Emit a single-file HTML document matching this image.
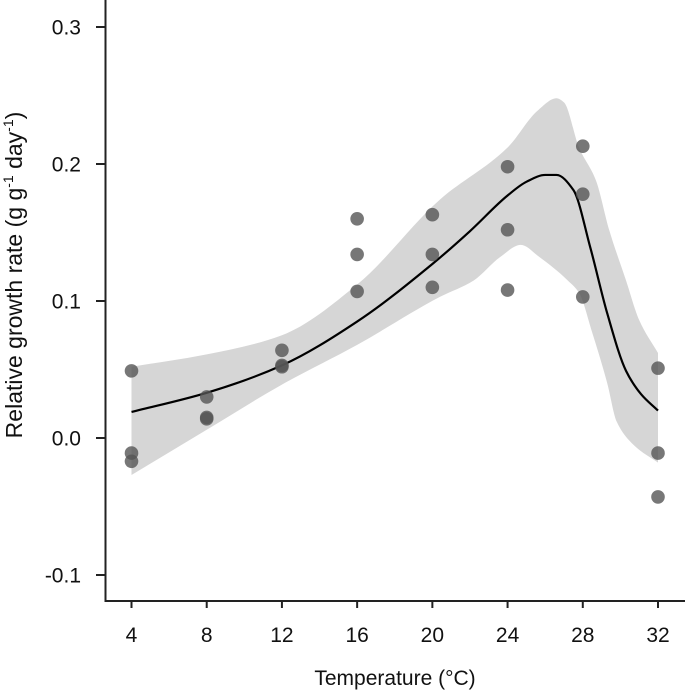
<!DOCTYPE html>
<html><head><meta charset="utf-8"><style>
html,body{margin:0;padding:0;background:#fff}
svg{display:block;font-family:"Liberation Sans",Arial,sans-serif}
</style></head><body>
<svg id="chart" width="685" height="691" viewBox="0 0 685 691" xmlns="http://www.w3.org/2000/svg">
<g id="band"></g>
<g id="fit"></g>
<g id="points"></g>
<g id="axes"></g>
<text x="395" y="685" font-size="21" text-anchor="middle" fill="#111">Temperature (°C)</text>
<text transform="translate(22,275) rotate(-90)" font-size="23" text-anchor="middle" fill="#111">Relative growth rate (g g<tspan font-size="14" dy="-9">-1</tspan><tspan dy="9"> day</tspan><tspan font-size="14" dy="-9">-1</tspan><tspan dy="9">)</tspan></text>
</svg>
<script>
const xTicks=[4,8,12,16,20,24,28,32];
const yTicks=[-0.1,0.0,0.1,0.2,0.3];
const yTickLabels=["-0.1","0.0","0.1","0.2","0.3"];
const fitT=[4,8,12,16,20,22,24,25,26,26.6,27.5,28.4,29.3,30.3,31.1,32];
const fitV=[0.019,0.033,0.053,0.085,0.127,0.151,0.177,0.187,0.192,0.192,0.181,0.139,0.091,0.049,0.032,0.020];
const upperT=[4,8,12,16,20.4,24,25.6,26.6,27,27.8,28.7,29.4,30.3,31,32];
const upperV=[0.052,0.061,0.075,0.112,0.174,0.212,0.239,0.248,0.245,0.212,0.188,0.152,0.115,0.086,0.062];
const lowerT=[4,8,12,16,20.4,22.2,23.6,24.7,25.7,27.2,27.8,28.5,29.3,29.8,30.7,32];
const lowerV=[-0.027,0.006,0.039,0.068,0.103,0.115,0.132,0.141,0.132,0.115,0.106,0.077,0.040,0.012,-0.005,-0.018];
const ptT=[4,4,4,8,8,8,12,12,12,16,16,16,20,20,20,24,24,24,28,28,28,32,32,32];
const ptV=[0.049,-0.011,-0.017,0.030,0.015,0.014,0.064,0.053,0.052,0.160,0.134,0.107,0.163,0.134,0.110,0.198,0.152,0.108,0.213,0.178,0.103,0.051,-0.011,-0.043];

const NS="http://www.w3.org/2000/svg";
const X=t=>131.5+(t-4)*(658-131.5)/28;
const Y=v=>438-v*1370;
function mk(tag,attrs,parent){const e=document.createElementNS(NS,tag);for(const k in attrs)e.setAttribute(k,attrs[k]);parent.appendChild(e);return e;}
// monotone cubic (Fritsch-Carlson) in screen space; reverse flag draws right-to-left
function monotone(ts,vs,start,reverse){
 const x=ts.map(X),y=vs.map(Y),n=x.length;
 const s=[],m=[];
 for(let i=0;i<n-1;i++)s.push((y[i+1]-y[i])/(x[i+1]-x[i]));
 m[0]=s[0];m[n-1]=s[n-2];
 for(let i=1;i<n-1;i++){
  if(s[i-1]*s[i]<=0)m[i]=0;
  else{const h0=x[i]-x[i-1],h1=x[i+1]-x[i];m[i]=3*(h0+h1)/((2*h1+h0)/s[i-1]+(h1+2*h0)/s[i]);}
 }
 const segs=[];
 for(let i=0;i<n-1;i++){
  const h=(x[i+1]-x[i])/3;
  segs.push([[x[i],y[i]],[x[i]+h,y[i]+m[i]*h],[x[i+1]-h,y[i+1]-m[i+1]*h],[x[i+1],y[i+1]]]);
 }
 let d='';
 if(!reverse){
  d=(start?'M':'L')+x[0]+','+y[0];
  segs.forEach(g=>{d+='C'+g[1]+' '+g[2]+' '+g[3];});
 }else{
  d=(start?'M':'L')+x[n-1]+','+y[n-1];
  for(let i=segs.length-1;i>=0;i--){const g=segs[i];d+='C'+g[2]+' '+g[1]+' '+g[0];}
 }
 return d;
}

const band=document.getElementById('band');
const bp=mk('path',{d:monotone(upperT,upperV,true,false)+monotone(lowerT,lowerV,false,true)+'Z',fill:'#d6d6d6'},band);



const fit=document.getElementById('fit');
const fp=mk('path',{d:monotone(fitT,fitV,true,false),fill:'none',stroke:'#000','stroke-width':2.2},fit);



const pts=document.getElementById('points');
ptT.forEach((t,i)=>{
 const c=mk('circle',{cx:X(t),cy:Y(ptV[i]),r:6.8,fill:'#555','fill-opacity':0.8},pts);
 
 
});

const ax=document.getElementById('axes');
const ya=mk('line',{x1:105.5,y1:0,x2:105.5,y2:601.5,stroke:'#222','stroke-width':2},ax);


const xa=mk('line',{x1:104.5,y1:601,x2:685,y2:601,stroke:'#222','stroke-width':2},ax);


xTicks.forEach(t=>{
 const l=mk('line',{x1:X(t),y1:601,x2:X(t),y2:608,stroke:'#222','stroke-width':2},ax);
 
 
 const tx=mk('text',{x:X(t),y:642,'font-size':21,'text-anchor':'middle',fill:'#111'},ax);
 tx.textContent=String(t);
 
 
});
yTicks.forEach((v,i)=>{
 const l=mk('line',{x1:96,y1:Y(v),x2:105.5,y2:Y(v),stroke:'#222','stroke-width':2},ax);
 
 
 const tx=mk('text',{x:81,y:Y(v)+7.5,'font-size':21,'text-anchor':'end',fill:'#111'},ax);
 tx.textContent=yTickLabels[i];
 
 
});
</script>
</body></html>
